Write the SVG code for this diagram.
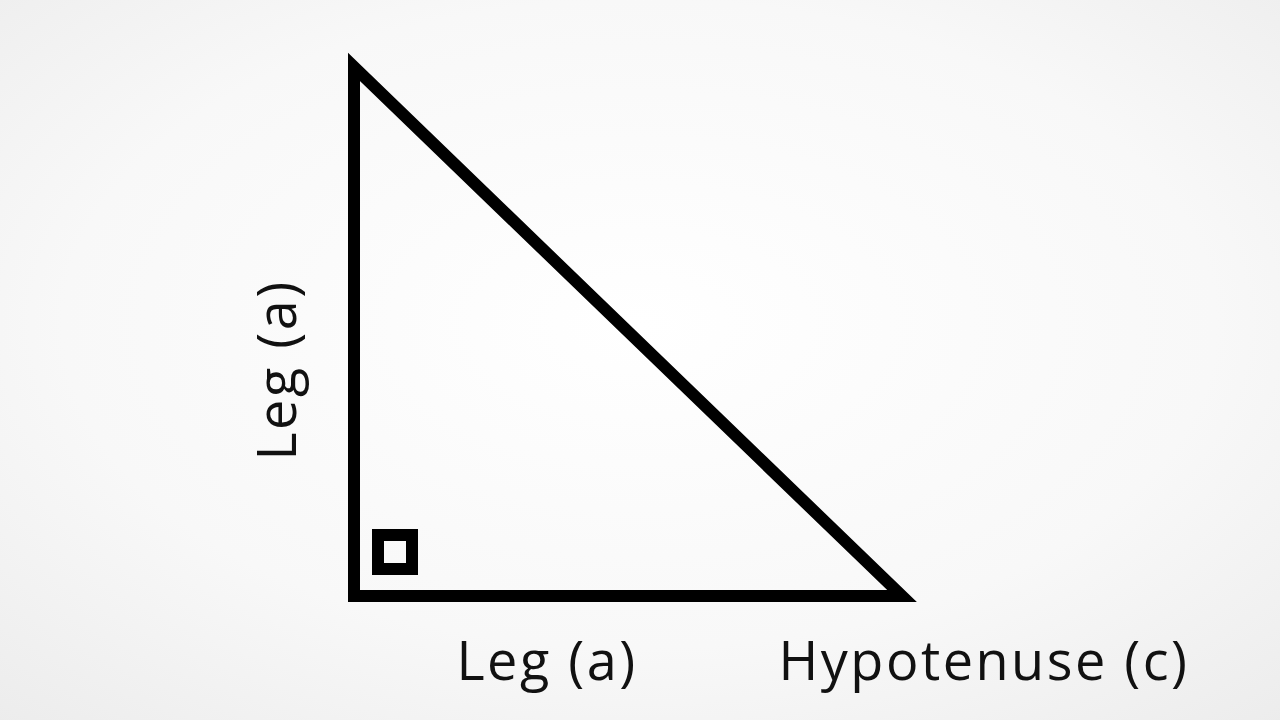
<svg xmlns="http://www.w3.org/2000/svg" width="1280" height="720" viewBox="0 0 1280 720">
<defs>
<radialGradient id="bg" cx="50%" cy="45%" r="75%">
<stop offset="0" stop-color="#ffffff"/>
<stop offset="0.6" stop-color="#f8f8f8"/>
<stop offset="1" stop-color="#ececec"/>
</radialGradient>
<style>
.lbl{font-family:"Open Sans","Noto Sans","Liberation Sans",sans-serif;font-size:54px;fill:#111;letter-spacing:2.5px;}
.shape{fill:none;stroke:#000;stroke-width:12;stroke-linejoin:miter;stroke-miterlimit:10;}
</style>
</defs>
<rect width="1280" height="720" fill="url(#bg)"/>
<g id="triangle">
<polygon class="shape" points="354,67 354,596 902,596"/>
</g>
<g id="right-angle">
<rect class="shape" x="378" y="535" width="34" height="34"/>
</g>
<g id="connectors"></g>
<g id="label-leg-vertical">
<text class="lbl" transform="translate(296,370) rotate(-90)" text-anchor="middle">Leg (a)</text>
</g>
<g id="label-leg-horizontal">
<text class="lbl" x="547" y="680" text-anchor="middle">Leg (a)</text>
</g>
<g id="label-hypotenuse">
<text class="lbl" x="984" y="680" text-anchor="middle">Hypotenuse (c)</text>
</g>
</svg>
